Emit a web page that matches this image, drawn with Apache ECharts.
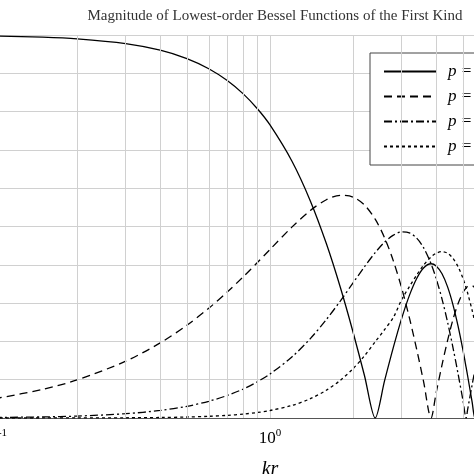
<!DOCTYPE html>
<html>
<head>
<meta charset="utf-8">
<script src="https://cdn.jsdelivr.net/npm/echarts@6/dist/echarts.min.js"></script>
<style>html,body{margin:0;padding:0;background:#fff}#chart{width:474px;height:474px}</style>
</head>
<body>
<div id="chart"></div>
<script>
// kr sample points and |J_p(kr)|
var kr = [0.1, 0.15, 0.2, 0.3, 0.4, 0.5, 0.6, 0.7, 0.8, 0.9, 1.0, 1.2, 1.4, 1.6, 1.8, 2.0, 2.2, 2.405, 2.6, 2.8, 3.0, 3.2, 3.4, 3.6, 3.832, 4.0, 4.2, 4.4, 4.6, 4.8, 5.0, 5.136, 5.2, 5.4, 5.52, 5.6, 5.8, 6.0];
var p0 = [0.9975, 0.9944, 0.99, 0.9776, 0.9604, 0.9385, 0.912, 0.8812, 0.8463, 0.8075, 0.7652, 0.6711, 0.5669, 0.4554, 0.34, 0.2239, 0.1104, 0, 0.0968, 0.185, 0.2601, 0.3202, 0.3643, 0.3918, 0.4028, 0.3971, 0.3766, 0.3423, 0.2961, 0.2404, 0.1776, 0.132, 0.1103, 0.0412, 0, 0.027, 0.0917, 0.1506];
var p1 = [0.0499, 0.0748, 0.0995, 0.1483, 0.196, 0.2423, 0.2867, 0.329, 0.3688, 0.4059, 0.4401, 0.4983, 0.5419, 0.5699, 0.5815, 0.5767, 0.556, 0.5191, 0.4708, 0.4097, 0.3391, 0.2613, 0.1792, 0.0955, 0, 0.066, 0.1386, 0.2028, 0.2566, 0.2985, 0.3276, 0.3398, 0.3432, 0.3453, 0.3403, 0.3343, 0.311, 0.2767];
var p2 = [0.00125, 0.0028, 0.005, 0.0112, 0.0197, 0.0306, 0.0437, 0.0588, 0.0758, 0.0946, 0.1149, 0.1593, 0.2073, 0.257, 0.3061, 0.3528, 0.3951, 0.4317, 0.459, 0.4776, 0.4861, 0.4835, 0.4697, 0.4449, 0.4028, 0.3641, 0.3106, 0.2501, 0.1845, 0.116, 0.0466, 0, 0.0217, 0.0867, 0.1233, 0.1464, 0.1989, 0.2429];
var p3 = [0.00002, 0.00007, 0.00017, 0.00056, 0.00132, 0.00256, 0.0044, 0.0069, 0.0102, 0.0144, 0.0196, 0.0327, 0.0504, 0.0726, 0.0987, 0.1289, 0.1624, 0.1989, 0.2307, 0.2629, 0.3091, 0.3431, 0.3734, 0.3988, 0.4205, 0.4302, 0.4344, 0.4302, 0.417, 0.3952, 0.3649, 0.3398, 0.3265, 0.2811, 0.251, 0.2297, 0.1738, 0.1148];
var minorX = [0.2, 0.3, 0.4, 0.5, 0.6, 0.7, 0.8, 0.9, 2, 3, 4, 5, 6, 7, 8, 9];
var names = ['p = 0', 'p = 1', 'p = 2', 'p = 3'];

var serif = 'Liberation Serif';
var chart = echarts.init(document.getElementById('chart'));

function pairs(ys) {
    return kr.map(function (x, i) { return [x, ys[i]]; });
}
var dashes = ['solid', [8, 5], [8, 3, 2, 3], [3, 3]];
var series = [p0, p1, p2, p3].map(function (ys, i) {
    return {
        name: names[i],
        type: 'line',
        data: pairs(ys),
        showSymbol: false,
        symbol: 'none',
        smooth: 0.3,
        lineStyle: { color: '#000', width: 1.3, type: dashes[i] },
        itemStyle: { color: '#000' }
    };
});
series.push({
    type: 'line',
    data: [],
    silent: true,
    markLine: {
        silent: true,
        symbol: 'none',
        label: { show: false },
        lineStyle: { color: '#d0d0d0', width: 1, type: 'solid' },
        data: minorX.map(function (v) { return { xAxis: v }; })
    }
});

var option = {
    animation: false,
    title: {
        text: 'Magnitude of Lowest-order Bessel Functions of the First Kind',
        left: 270, top: 4, textAlign: 'center',
        textStyle: { fontFamily: serif, fontSize: 15, fontWeight: 'normal', color: '#333' }
    },
    grid: { left: -6, right: -72, top: 35, bottom: 56, containLabel: false, outerBoundsMode: 'none' },
    legend: {
        data: names,
        orient: 'vertical',
        left: 370, top: 53,
        itemWidth: 53, itemHeight: 10, itemGap: 8,
        padding: [10, 14, 10, 13],
        borderColor: '#444', borderWidth: 1,
        backgroundColor: '#fff',
        itemStyle: { opacity: 0 },
        textStyle: { fontFamily: serif, fontSize: 17, fontStyle: 'italic', color: '#000', padding: [0, 0, 0, 6] }
    },
    xAxis: {
        type: 'log', min: 0.1, max: 10, logBase: 10,
        name: 'kr', nameLocation: 'middle', nameGap: 42,
        nameTextStyle: { fontFamily: serif, fontSize: 20, fontStyle: 'italic', color: '#000' },
        axisLine: { lineStyle: { color: '#555' } },
        axisTick: { show: false },
        splitLine: { show: true, lineStyle: { color: '#d0d0d0' } },
        axisLabel: {
            margin: 10,
            formatter: function (v) {
                var e = Math.round(Math.log10(v));
                return '10{s|' + e + '}';
            },
            fontFamily: serif, fontSize: 17, color: '#000',
            rich: { s: { fontFamily: serif, fontSize: 11, verticalAlign: 'top', padding: [0, 0, 10, 0] } }
        }
    },
    yAxis: {
        type: 'value', min: 0, max: 1, interval: 0.1,
        axisLine: { show: false },
        axisTick: { show: false },
        axisLabel: { show: false },
        splitLine: { lineStyle: { color: '#d0d0d0' } }
    },
    series: series
};
chart.setOption(option);
</script>
</body>
</html>
